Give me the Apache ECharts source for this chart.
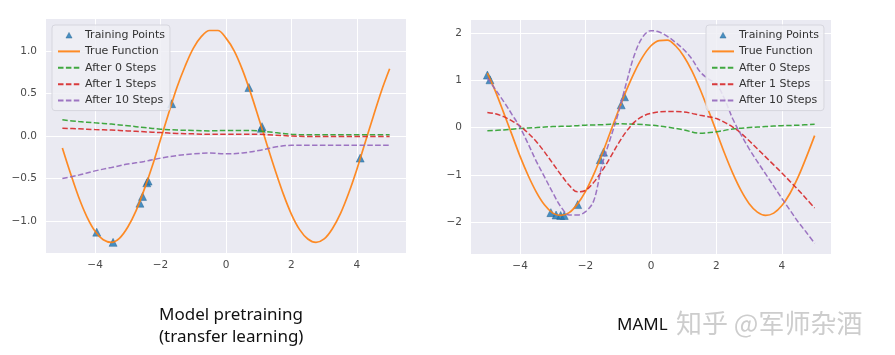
<!DOCTYPE html>
<html><head><meta charset="utf-8">
<script src="https://cdn.jsdelivr.net/npm/echarts@6/dist/echarts.min.js"></script>
<style>html,body{margin:0;padding:0;background:#fff}#c{width:895px;height:355px}</style>
</head><body><div id="c"></div>
<script>
// ---- shared x samples ----
const xFine = [-5,-4.75,-4.5,-4.25,-4,-3.75,-3.5,-3.25,-3,-2.75,-2.5,-2.25,-2,-1.75,-1.5,-1.25,-1,-0.75,-0.5,-0.25,0,0.25,0.5,0.75,1,1.25,1.5,1.75,2,2.25,2.5,2.75,3,3.25,3.5,3.75,4,4.25,4.5,4.75,5];
const xCoarse = [-5,-4.5,-4,-3.5,-3,-2.5,-2,-1.5,-1,-0.5,0,0.5,1,1.5,2,2.5,3,3.5,4,4.5,5];
const xTicks = [-4,-2,0,2,4];

// ---- left panel: Model pretraining ----
const leftTrainX = [-3.95,-3.45,-2.63,-2.55,-2.42,-2.38,-1.66,0.70,1.08,1.10,4.10];
const leftTrainY = [-1.13,-1.25,-0.79,-0.71,-0.55,-0.53,0.38,0.57,0.09,0.11,-0.26];
const leftTrue = [-0.14,-0.44,-0.72,-0.95,-1.12,-1.22,-1.25,-1.20,-1.07,-0.88,-0.63,-0.35,-0.04,0.27,0.57,0.82,1.03,1.17,1.24,1.24,1.15,1.00,0.78,0.51,0.21,-0.10,-0.40,-0.68,-0.92,-1.10,-1.21,-1.25,-1.21,-1.09,-0.91,-0.67,-0.39,-0.08,0.23,0.53,0.79];
const leftStep0 = [0.19,0.17,0.155,0.14,0.12,0.10,0.08,0.07,0.065,0.06,0.065,0.065,0.06,0.04,0.02,0.015,0.015,0.015,0.015,0.015,0.015];
const leftStep1 = [0.09,0.085,0.075,0.07,0.06,0.05,0.04,0.03,0.025,0.02,0.02,0.02,0.02,0.01,0.0,-0.005,-0.005,-0.005,-0.005,-0.005,-0.005];
const leftStep10 = [-0.50,-0.46,-0.41,-0.37,-0.33,-0.30,-0.26,-0.23,-0.21,-0.20,-0.21,-0.20,-0.17,-0.13,-0.11,-0.11,-0.11,-0.11,-0.11,-0.11,-0.11];
const leftYTicks = [-1,-0.5,0,0.5,1];

// ---- right panel: MAML ----
const rightTrainX = [-5.0,-4.92,-3.06,-2.9,-2.76,-2.65,-2.24,-1.55,-1.45,-0.91,-0.81];
const rightTrainY = [1.11,1.01,-1.80,-1.85,-1.86,-1.86,-1.63,-0.68,-0.52,0.48,0.65];
const rightTrue = [1.15,0.76,0.31,-0.15,-0.61,-1.02,-1.37,-1.64,-1.81,-1.86,-1.80,-1.62,-1.35,-0.99,-0.57,-0.11,0.35,0.79,1.18,1.50,1.73,1.84,1.85,1.73,1.51,1.20,0.81,0.37,-0.09,-0.55,-0.97,-1.33,-1.61,-1.79,-1.86,-1.81,-1.65,-1.39,-1.04,-0.62,-0.17];
const rightStep0 = [-0.07,-0.05,-0.02,0.0,0.02,0.03,0.05,0.06,0.08,0.07,0.05,0.01,-0.05,-0.12,-0.09,-0.03,0.0,0.02,0.04,0.05,0.07];
const rightStep1 = [0.32,0.29,0.23,0.14,0.03,-0.12,-0.30,-0.52,-0.76,-1.0,-1.22,-1.36,-1.33,-1.16,-0.92,-0.64,-0.34,-0.08,0.12,0.24,0.30,0.33,0.34,0.34,0.33,0.30,0.26,0.23,0.19,0.11,0.01,-0.12,-0.28,-0.45,-0.62,-0.79,-0.96,-1.14,-1.32,-1.51,-1.70];
const rightStep10 = [1.05,0.80,0.55,0.28,0.0,-0.35,-0.72,-1.05,-1.38,-1.68,-1.85,-1.85,-1.78,-1.55,-0.80,-0.25,0.30,0.95,1.55,1.92,2.05,2.02,1.93,1.80,1.65,1.45,1.18,1.03,0.92,0.60,0.18,-0.15,-0.45,-0.72,-0.98,-1.24,-1.50,-1.75,-2.00,-2.22,-2.45];
const rightYTicks = [-2,-1,0,1,2];

const names = ['Training Points','True Function','After 0 Steps','After 1 Steps','After 10 Steps'];
const colors = {blue:'#1f77b4', orange:'#ff7f0e', green:'#2ca02c', red:'#d62728', purple:'#9467bd'};
const captionLeft = 'Model pretraining\n(transfer learning)';
const captionRight = 'MAML';
const watermark = '知乎 @军师杂酒';

function pairs(xs, ys){ return xs.map((x,i)=>[x, ys[i]]); }
const minus = s => String(s).replace('-', '\u2212');

const tickFont = {fontFamily:'DejaVu Sans', fontSize:10.5, color:'#4a4a4a'};

function xAxis(gi){
  return {type:'value', gridIndex:gi, min:-5.5, max:5.5,
    axisLine:{show:false}, axisTick:{show:false, customValues:xTicks},
    axisLabel:Object.assign({customValues:xTicks, margin:7, formatter:v=>minus(v)}, tickFont),
    splitLine:{show:true, lineStyle:{color:'#ffffff', width:1}}};
}
function yAxis(gi, min, max, ticks, dec){
  return {type:'value', gridIndex:gi, min:min, max:max,
    axisLine:{show:false}, axisTick:{show:false, customValues:ticks},
    axisLabel:Object.assign({customValues:ticks, margin:9, formatter:v=>minus(v.toFixed(dec))}, tickFont),
    splitLine:{show:true, lineStyle:{color:'#ffffff', width:1}}};
}
function panelSeries(gi, trX, trY, trueY, s0x, s0, s1x, s1, s10x, s10){
  const dash = {type:[5.5,2.4], width:1.5};
  const line = (name, xs, ys, color, dashed) => ({
    name, type:'line', xAxisIndex:gi, yAxisIndex:gi, data:pairs(xs, ys),
    symbol:'none', smooth:0.35, silent:true,
    lineStyle:Object.assign({color, opacity:0.9}, dashed ? dash : {width:1.7, type:'solid'}),
    itemStyle:{color}
  });
  return [
    {name:names[0], type:'scatter', xAxisIndex:gi, yAxisIndex:gi, data:pairs(trX, trY),
      symbol:'triangle', symbolSize:8, itemStyle:{color:colors.blue, borderColor:'#1a5a8a', borderWidth:0.5}},
    line(names[1], xFine, trueY, colors.orange, false),
    line(names[2], s0x, s0, colors.green, true),
    line(names[3], s1x, s1, colors.red, true),
    line(names[4], s10x, s10, colors.purple, true)
  ];
}
const hidden = {color:'rgba(0,0,0,0)', borderColor:'rgba(0,0,0,0)', borderWidth:0};
function legend(left, top){
  return {left, top, orient:'vertical', itemWidth:22, itemHeight:7, itemGap:4.4,
    padding:[4,5,4,5], backgroundColor:'rgba(238,238,245,0.85)', borderColor:'#d6d6de', borderWidth:1, borderRadius:3,
    textStyle:{fontFamily:'DejaVu Sans', fontSize:11, color:'#333', lineHeight:12},
    itemStyle:hidden,
    data:[
      {name:names[0], icon:'path://M0,0 M22,8 M7.5,7.5 L11,1 L14.5,7.5 Z', itemStyle:{color:colors.blue, borderColor:'#1a5a8a', borderWidth:0.5}},
      {name:names[1], itemStyle:hidden},
      {name:names[2], itemStyle:hidden},
      {name:names[3], itemStyle:hidden},
      {name:names[4], itemStyle:hidden}
    ]};
}

const option = {
  backgroundColor:'#ffffff',
  animation:false,
  grid:[
    {left:46, top:19, width:360, height:234, show:true, backgroundColor:'#eaeaf2', borderWidth:0},
    {left:471, top:20, width:360, height:234, show:true, backgroundColor:'#eaeaf2', borderWidth:0}
  ],
  xAxis:[xAxis(0), xAxis(1)],
  yAxis:[yAxis(0,-1.375,1.375,leftYTicks,1), yAxis(1,-2.675,2.275,rightYTicks,0)],
  legend:[legend(52,25), legend(706,25)],
  title:[
    {text:captionLeft, left:154, top:299, textStyle:{fontFamily:'Noto Sans', fontSize:17, fontWeight:'normal', color:'#111', lineHeight:22}},
    {text:captionRight, left:612, top:309, textStyle:{fontFamily:'Noto Sans', fontSize:17, fontWeight:'normal', color:'#111', lineHeight:22}},
    {text:watermark, left:671, top:304, textStyle:{fontFamily:'Noto Sans CJK SC', fontSize:26, fontWeight:'normal', color:'#cdcdcd', lineHeight:28}}
  ],
  series:[
    ...panelSeries(0, leftTrainX, leftTrainY, leftTrue, xCoarse, leftStep0, xCoarse, leftStep1, xCoarse, leftStep10),
    ...panelSeries(1, rightTrainX, rightTrainY, rightTrue, xCoarse, rightStep0, xFine, rightStep1, xFine, rightStep10)
  ]
};
const chart = echarts.init(document.getElementById('c'), null, {renderer:'canvas'});
chart.setOption(option);
</script></body></html>
